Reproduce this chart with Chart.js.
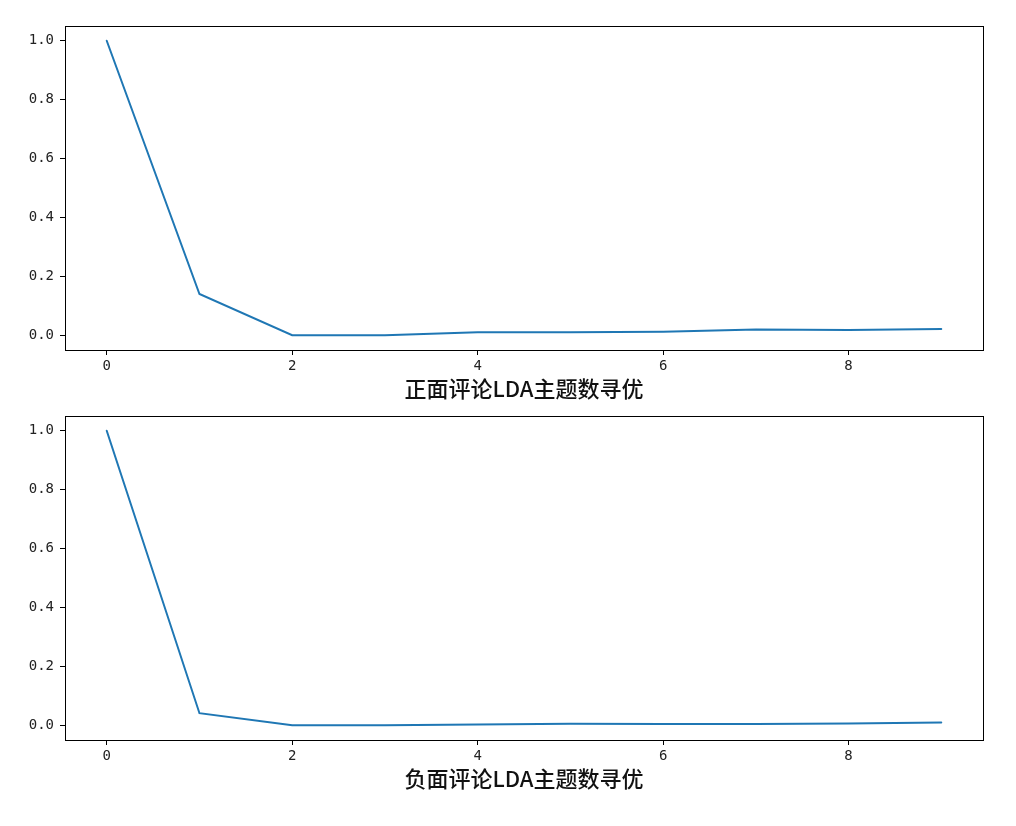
<!DOCTYPE html>
<html><head><meta charset="utf-8">
<script src="https://cdn.jsdelivr.net/npm/chart.js@4"></script>
<style>
html,body{margin:0;padding:0;background:#fff;width:1016px;height:826px;overflow:hidden}
.box{position:absolute;left:0;width:1016px}
</style></head><body>
<div class="box" style="top:0;height:410px"><canvas id="c1"></canvas></div>
<div class="box" style="top:390px;height:410px"><canvas id="c2"></canvas></div>
<script>
const topicCounts = [0,1,2,3,4,5,6,7,8,9];
const positiveScores = [1.0,0.14,0.0,0.0,0.01,0.01,0.012,0.02,0.018,0.021];
const negativeScores = [1.0,0.041,0.0,0.0,0.003,0.005,0.004,0.004,0.006,0.009];
const xTicks = [0,2,4,6,8];
const yTicks = [0,0.2,0.4,0.6,0.8,1.0];
const titles = ['正面评论LDA主题数寻优','负面评论LDA主题数寻优'];

const FONT = '"Noto Sans CJK SC", "DejaVu Sans", sans-serif';
const TICKFONT = '"DejaVu Sans Mono", monospace';
const frame = {
  id:'frame',
  afterDraw(chart){
    const a = chart.chartArea, ctx = chart.ctx;
    ctx.save(); ctx.strokeStyle='#000'; ctx.lineWidth=1;
    ctx.strokeRect(Math.round(a.left)+0.5, Math.round(a.top)+0.5, Math.round(a.right-a.left), Math.round(a.bottom-a.top));
    ctx.restore();
  }
};
function make(id, vals, title, padTop){
  new Chart(document.getElementById(id), {
    type:'line',
    data:{datasets:[{data: topicCounts.map((x,i)=>({x, y: vals[i]})), borderColor:'#1f77b4', borderWidth:2, borderCapStyle:'round', pointRadius:0, fill:false, tension:0}]},
    options:{
      responsive:true, maintainAspectRatio:false, animation:false,
      layout:{padding:{top:padTop, right:33, left:0, bottom:0}},
      plugins:{legend:{display:false}, tooltip:{enabled:false}},
      scales:{
        x:{type:'linear', min:-0.45, max:9.45,
          afterBuildTicks(s){ s.ticks = xTicks.map(v=>({value:v})); },
          afterFit(s){ s.height = 410 - padTop - 324; },
          grid:{display:true, drawOnChartArea:false, drawTicks:true, tickLength:5, color:'#000'},
          border:{display:false},
          ticks:{color:'#222', font:{family:TICKFONT, size:14}, padding:3, maxRotation:0, callback:v=>String(v)},
          title:{display:true, text:title, color:'#111', font:{family:FONT, size:22, weight:'500'}, padding:{top:0, bottom:8}}
        },
        y:{min:-0.05, max:1.05,
          afterBuildTicks(s){ s.ticks = yTicks.map(v=>({value:v})); },
          afterFit(s){ s.width = 65; },
          grid:{display:true, drawOnChartArea:false, drawTicks:true, tickLength:5, color:'#000'},
          border:{display:false},
          ticks:{color:'#222', font:{family:TICKFONT, size:14}, padding:6, callback:v=>v.toFixed(1)}
        }
      }
    },
    plugins:[frame]
  });
}
make('c1', positiveScores, titles[0], 26);
make('c2', negativeScores, titles[1], 26);
</script></body></html>
